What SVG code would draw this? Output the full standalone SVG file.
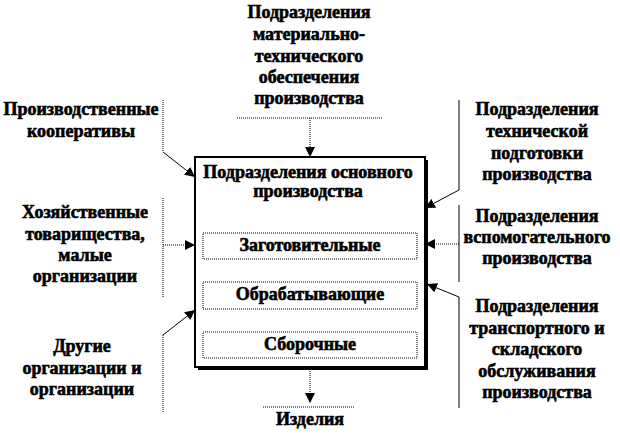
<svg xmlns="http://www.w3.org/2000/svg" width="620" height="437" viewBox="0 0 620 437">
<defs>
<marker id="ah" viewBox="0 0 10 10" refX="10" refY="5" markerWidth="10" markerHeight="10" markerUnits="userSpaceOnUse" orient="auto">
<path d="M0,0 L10,5 L0,10 z" fill="#000"/>
</marker>
</defs>
<style>
text{font-weight:bold;font-size:18px;fill:#000;stroke:#000;stroke-width:0.6;text-anchor:middle}
.dot{fill:none;stroke:#000;stroke-width:1;stroke-dasharray:1 1}
.sol{fill:none;stroke:#000;stroke-width:1}
.arr{marker-end:url(#ah)}
.inner{fill:#fff;stroke:#000;stroke-width:1;stroke-dasharray:1 1}
</style>
<rect width="620" height="437" fill="#fff"/>
<g id="connectors">
<line class="dot" x1="237" y1="118" x2="382" y2="118"/>
<line class="dot arr" x1="310" y1="118" x2="310" y2="157"/>
<line class="dot arr" x1="310" y1="259" x2="310" y2="282"/>
<line class="dot arr" x1="310" y1="309" x2="310" y2="332"/>
<line class="dot arr" x1="310" y1="367" x2="310" y2="403"/>
<line class="dot" x1="263" y1="407" x2="355" y2="407"/>
<line class="dot" x1="163" y1="100" x2="163" y2="152"/>
<line class="sol arr" x1="163" y1="152" x2="195" y2="177"/>
<line class="dot" x1="163" y1="198" x2="163" y2="297"/>
<line class="dot arr" x1="163" y1="245" x2="195" y2="245"/>
<line class="dot" x1="163" y1="335" x2="163" y2="412"/>
<line class="sol arr" x1="163" y1="335" x2="195" y2="310"/>
<line class="sol" x1="459" y1="100" x2="459" y2="190"/>
<line class="sol arr" x1="459" y1="190" x2="425" y2="208"/>
<line class="sol" x1="459" y1="205" x2="459" y2="282"/>
<line class="dot arr" x1="459" y1="244" x2="425" y2="244"/>
<line class="sol" x1="459" y1="297" x2="459" y2="408"/>
<line class="sol arr" x1="459" y1="297" x2="427" y2="284"/>
</g>
<g font-family="'Liberation Serif', 'Times New Roman', serif">
<g id="main">
<rect x="198" y="160" width="230" height="210" fill="#000"/>
<rect x="195" y="157" width="230" height="210" fill="#fff" stroke="#000" stroke-width="2"/>
<text x="308" y="178">Подразделения основного</text>
<text x="308" y="197">производства</text>
</g>
<g id="zagot">
<rect class="inner" x="203" y="233" width="214" height="26"/>
<text x="310" y="251">Заготовительные</text>
</g>
<g id="obrab">
<rect class="inner" x="203" y="282" width="214" height="27"/>
<text x="310" y="300">Обрабатывающие</text>
</g>
<g id="sbor">
<rect class="inner" x="203" y="332" width="214" height="26"/>
<text x="310" y="350">Сборочные</text>
</g>
<g id="top">
<text x="309" y="18">Подразделения</text>
<text x="309" y="40">материально-</text>
<text x="309" y="62">технического</text>
<text x="309" y="83">обеспечения</text>
<text x="309" y="104">производства</text>
</g>
<g id="izdelia">
<text x="310" y="425">Изделия</text>
</g>
<g id="l1">
<text x="81" y="115">Производственные</text>
<text x="81" y="137">кооперативы</text>
</g>
<g id="l2">
<text x="85" y="218">Хозяйственные</text>
<text x="85" y="240">товарищества,</text>
<text x="85" y="261">малые</text>
<text x="85" y="282">организации</text>
</g>
<g id="l3">
<text x="82" y="352">Другие</text>
<text x="82" y="374">организации и</text>
<text x="82" y="395">организации</text>
</g>
<g id="r1">
<text x="537" y="115">Подразделения</text>
<text x="537" y="137">технической</text>
<text x="537" y="159">подготовки</text>
<text x="537" y="180">производства</text>
</g>
<g id="r2">
<text x="537" y="222">Подразделения</text>
<text x="537" y="243">вспомогательного</text>
<text x="537" y="264">производства</text>
</g>
<g id="r3">
<text x="537" y="312">Подразделения</text>
<text x="537" y="334">транспортного и</text>
<text x="537" y="355">складского</text>
<text x="537" y="377">обслуживания</text>
<text x="537" y="398">производства</text>
</g>
</g>
</svg>
